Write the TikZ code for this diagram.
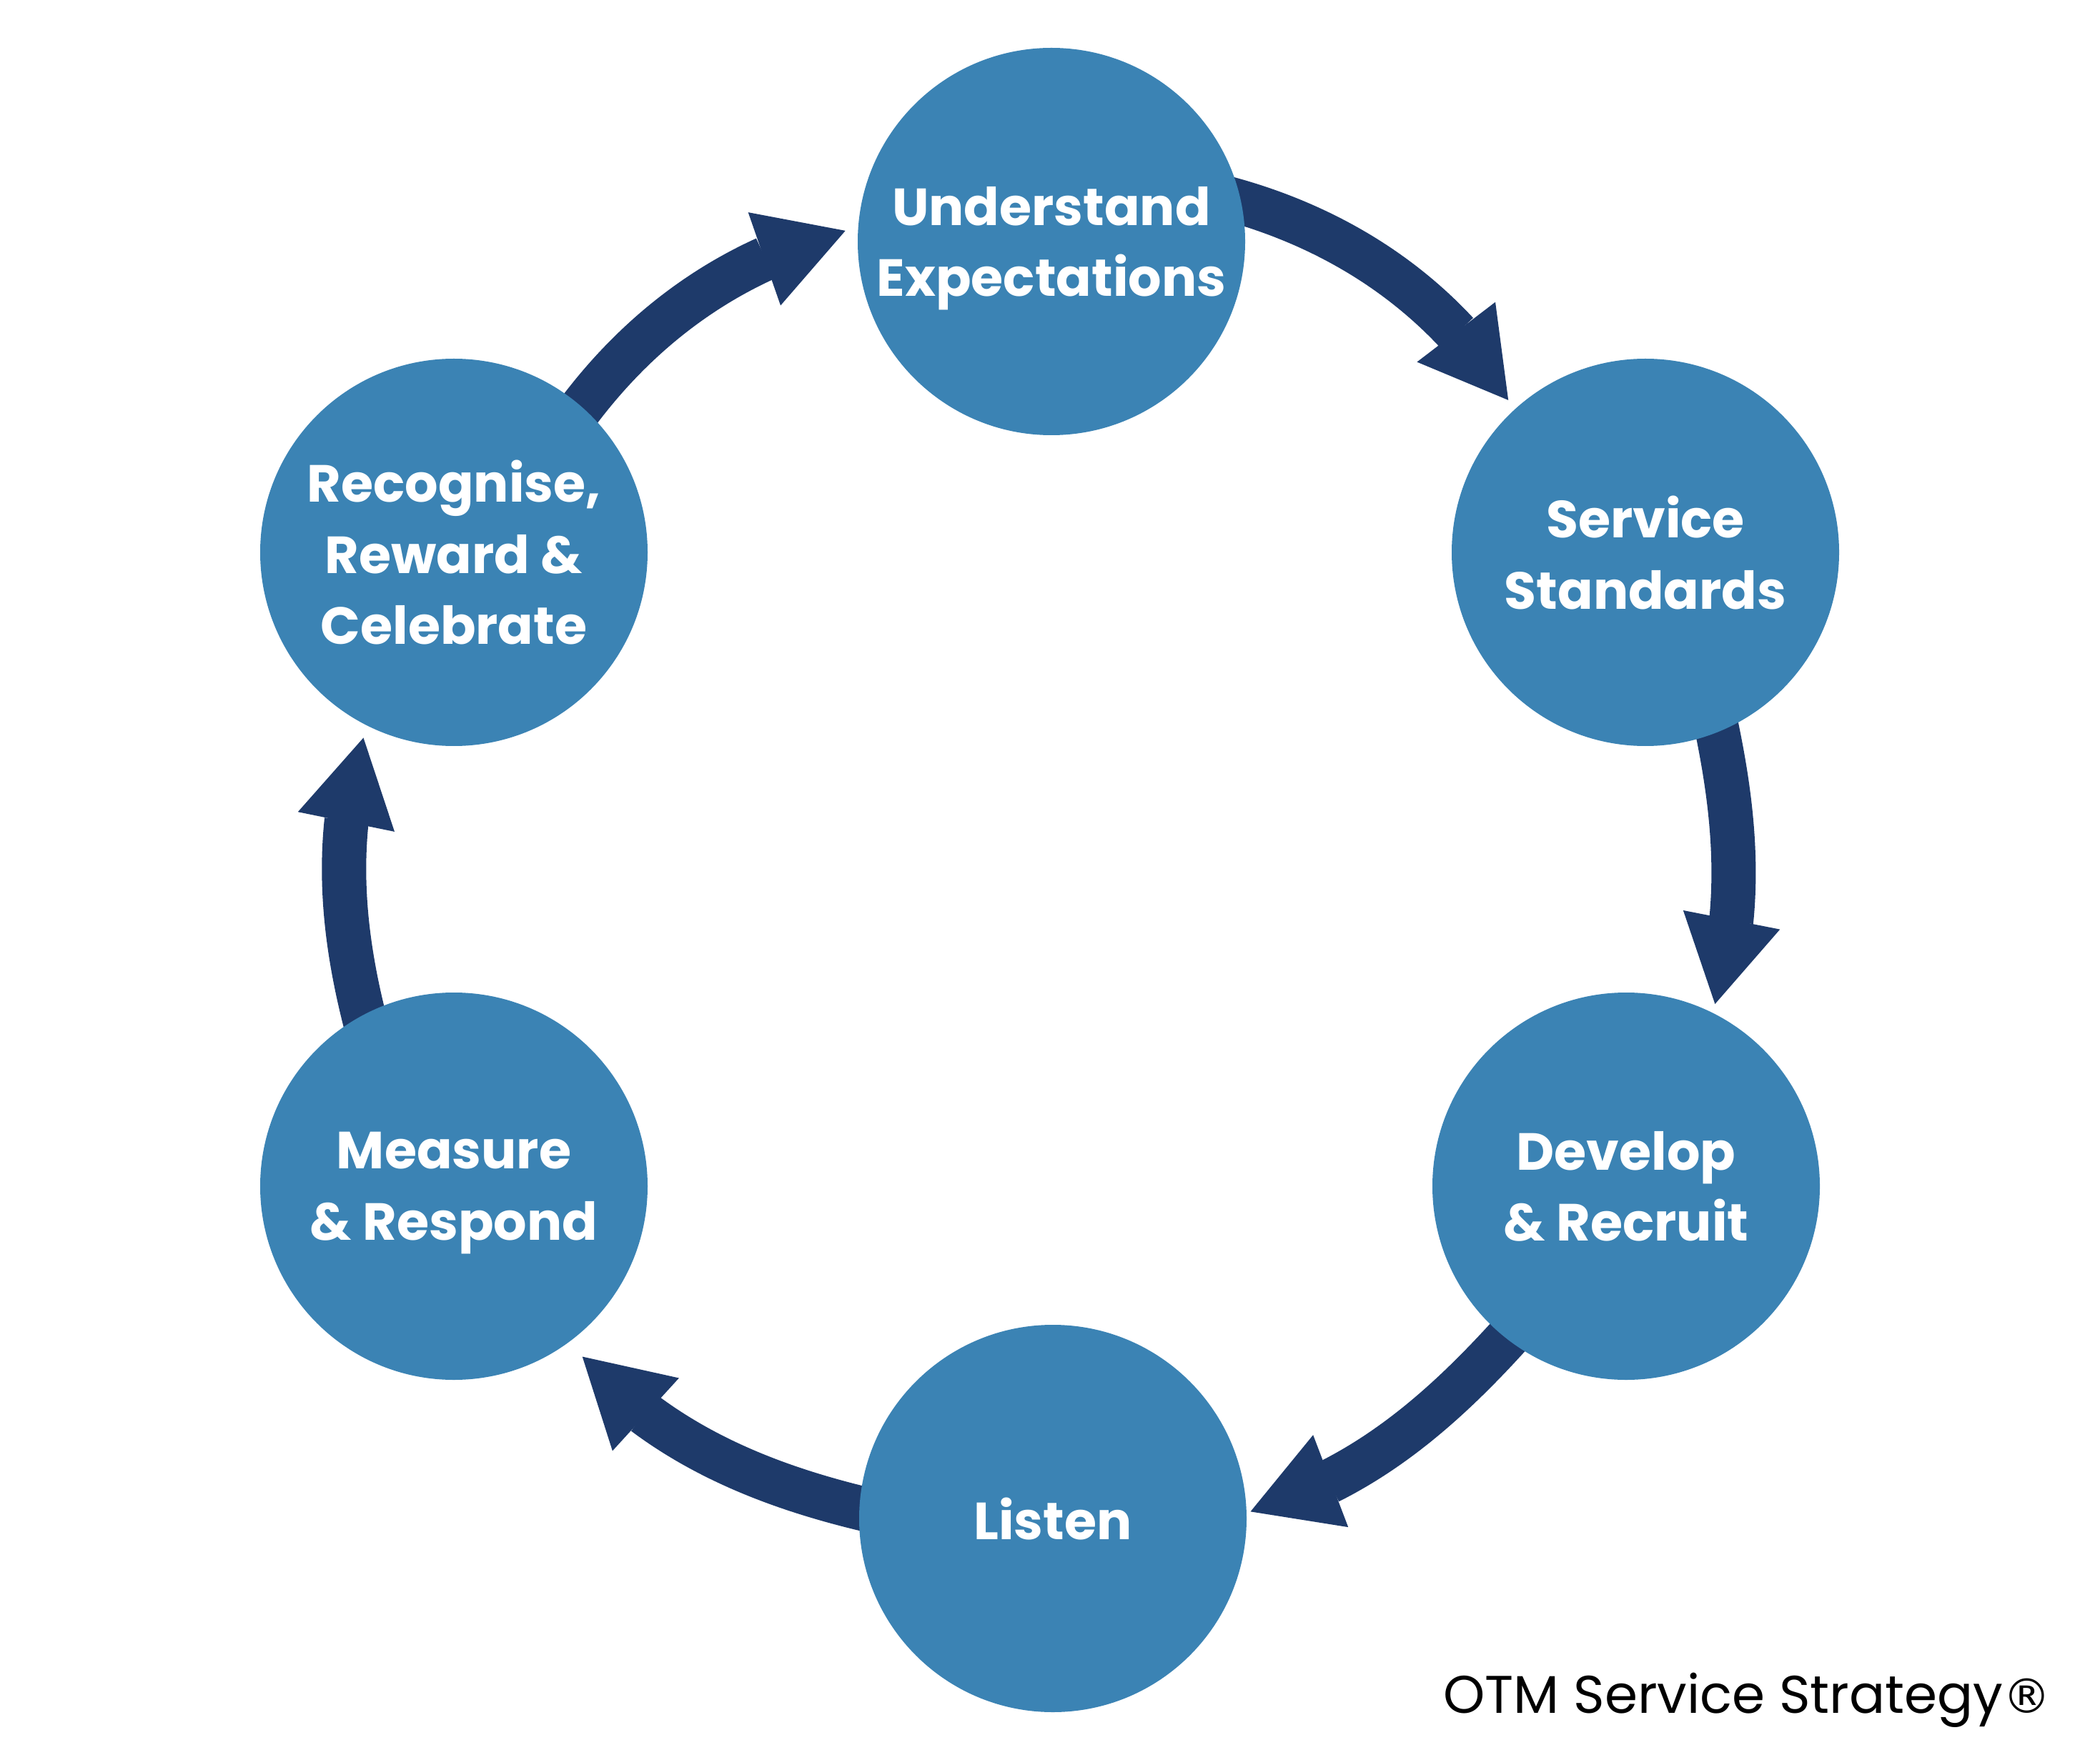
\documentclass[tikz,border=0pt]{standalone}
\usepackage{fontspec}
\setmainfont{Poppins}
\newfontfamily\regfont{DejaVu Sans}
\usepackage{tikz}
\usetikzlibrary{calc,arrows.meta,bending,backgrounds}
\definecolor{stageblue}{RGB}{59,131,180}
\definecolor{flownavy}{RGB}{30,58,106}
\tikzset{>={Triangle[width=1.38cm,length=1.2cm,line width=0pt,flex]}}
\tikzset{stage/.style={circle,fill=stageblue,minimum size=5.42cm,inner sep=0pt,
    align=center,text depth=0pt,text=white,font=\bfseries\fontsize{20.8}{28.3}\selectfont}}
\tikzset{flow/.style={->,draw=flownavy,line width=0.62cm,looseness=0.9}}

\begin{document}
\begin{tikzpicture}
  \useasboundingbox (0,0) rectangle (29.38,-24.63);
  % the six stages
  \node [stage] (ue) at (14.71,-3.38) {Understand\\Expectations};
  \node [stage] (ss) at (23.02,-7.73) {Service\\Standards};
  \node [stage] (dr) at (22.75,-16.60) {Develop\\\& Recruit};
  \node [stage] (li) at (14.73,-21.25) {Listen};
  \node [stage] (mr) at (6.35,-16.60) {Measure\\\& Respond};
  \node [stage] (rrc) at (6.35,-7.73) {Recognise,\\Reward \&\\Celebrate};
  \node [anchor=base east,inner sep=0pt,font=\fontsize{21.1}{26}\selectfont] (otm)
    at (28.70,-23.97) {OTM Service Strategy{\regfont\fontsize{19}{26}\selectfont ®}};
  % arrows behind the circles
  \begin{scope}[on background layer]
    \draw [flow] ([shift={(167:.5)}]ue.12) to[out=-13,in=122] ([shift={(132:.15)}]ss.132);
    \draw [flow] ([shift={(103:.5)}]ss.-68) to[out=-77,in=73.5] ([shift={(64:.12)}]dr.64);
    \draw [flow] ([shift={(49:.5)}]dr.232) to[out=-131,in=15] ([shift={(2:.05)}]li.2);
    \draw [flow] ([shift={(-12:.5)}]li.177) to[out=168,in=-48] ([shift={(-53:.27)}]mr.-53);
    \draw [flow] ([shift={(-74:.5)}]mr.118) to[out=106,in=-107] ([shift={(244:.17)}]rrc.244);
    \draw [flow] ([shift={(-124:.5)}]rrc.49) to[out=56,in=-166] ([shift={(177:.17)}]ue.177);
  \end{scope}
\end{tikzpicture}
\end{document}
